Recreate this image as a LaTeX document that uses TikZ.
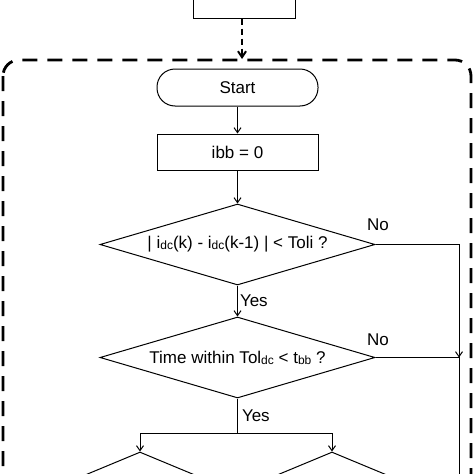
\documentclass[tikz,border=0pt]{standalone}
\usepackage{fontspec}
\setmainfont{Liberation Sans}
\usetikzlibrary{arrows.meta,shapes.geometric}
\newcommand\lowsub[1]{\raisebox{-1pt}{\fontsize{12}{13}\selectfont #1}}
\begin{document}
\begin{tikzpicture}[x=1pt,y=-1pt,
  font=\fontsize{17}{19}\selectfont,
  line width=1pt,
  arr/.style={-{Straight Barb[length=5pt,width=7pt]}},
  box/.style={draw,rectangle,minimum width=161pt,minimum height=36pt,inner sep=0pt},
  term/.style={draw,rectangle,rounded corners=18pt,minimum width=161pt,minimum height=37pt,inner sep=0pt},
  dia/.style={draw,diamond,inner sep=0pt,shape aspect=3.4,minimum width=275pt,minimum height=81pt},
  smalldia/.style={draw,diamond,inner sep=0pt,shape aspect=2.4,minimum width=216pt,minimum height=90pt},
  lbl/.style={inner sep=0pt}]
\useasboundingbox (0,0) rectangle (474,474);
\clip (0,0) rectangle (474,474);
% top box
\node[box,minimum width=102pt,minimum height=40pt] (top) at (244,-2) {};
% dashed frame
\draw[line width=2.8pt,dash pattern=on 15pt off 10pt,rounded corners=16pt] (3,60) rectangle (471,540);
\coordinate (framein) at (242,59);
\draw[line width=2pt,dash pattern=on 6pt off 4pt,-{Straight Barb[length=6pt,width=8pt]}] (top.south -| framein) -- (framein);
% nodes
\node[term] (start) at (237.5,87.5) {Start};
\node[box] (init) at (237.5,152) {ibb = 0};
\node[dia] (d1) at (237.5,244.5) {| i\lowsub{dc}(k) - i\lowsub{dc}(k-1) | < Toli ?};
\node[dia] (d2) at (237.5,357.5) {Time within Tol\lowsub{dc} < t\lowsub{bb} ?};
\node[smalldia] (d3) at (140,497) {};
\node[smalldia] (d4) at (332,497) {};
% connectors
\draw[arr] (start) -- (init);
\draw[arr] (init) -- (d1);
\draw[arr] (d1) -- node[lbl,right=2pt] {Yes} (d2);
\coordinate (rt) at (459,474);
\draw (d1.east) -- (d1.east -| rt) -- (rt);
\draw[arr] (d1.east -| rt) -- (d2.east -| rt);
\draw (d2.east) -- (d2.east -| rt);
\coordinate (split) at (237.5,433);
\draw (d2.south) -- node[lbl,right=4pt] {Yes} (split);
\draw[arr] (split) -| (d3.north);
\draw[arr] (split) -| (d4.north);
% labels
\node[lbl] (no1) at (378,225) {No};
\node[lbl] (no2) at (378,340) {No};
\end{tikzpicture}
\end{document}
